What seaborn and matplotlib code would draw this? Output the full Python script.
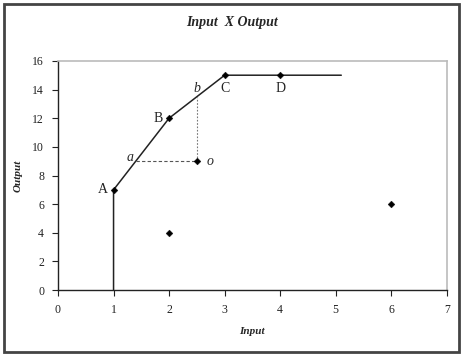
import matplotlib
matplotlib.use("Agg")
import matplotlib.pyplot as plt
import seaborn as sns
import pandas as pd
from matplotlib.patches import Rectangle

# Data
frontier_x = [1, 1, 2, 3, 5.1]
frontier_y = [0, 7, 12, 15, 15]
point_x = [1, 2, 3, 4, 2.5, 2, 6]
point_y = [7, 12, 15, 15, 9, 4, 6]
labels = ["A", "B", "C", "D"]
label_x = [0.9, 1.88, 3.0, 4.0]
label_y = [7.0, 12.0, 14.1, 14.1]
a_pt = (1.4, 9)
b_pt = (2.5, 13.5)
o_pt = (2.5, 9)
x_ticks = [0, 1, 2, 3, 4, 5, 6, 7]
y_ticks = [0, 2, 4, 6, 8, 10, 12, 14, 16]

sns.set_style("white")
plt.rcParams['font.family'] = ['Liberation Serif', 'DejaVu Serif']

fig = plt.figure(figsize=(4.64, 3.56), dpi=100)
ax = fig.add_axes([0.125, 0.185, 0.838, 0.644])

df_f = pd.DataFrame({"x": frontier_x, "y": frontier_y})
sns.lineplot(data=df_f, x="x", y="y", sort=False, estimator=None, ax=ax,
             color="#222222", linewidth=1.1)
df_p = pd.DataFrame({"x": point_x, "y": point_y})
sns.scatterplot(data=df_p, x="x", y="y", ax=ax, marker="D", s=12,
                color="black", edgecolor="black", zorder=5)

# dashed guide lines
ax.plot([a_pt[0], o_pt[0]], [a_pt[1], o_pt[1]], linestyle=(0, (3, 2)),
        color="#555555", linewidth=0.8)
ax.plot([o_pt[0], b_pt[0]], [o_pt[1], b_pt[1]], linestyle=(0, (1.5, 1.5)),
        color="#777777", linewidth=0.8)

for lab, lx, ly in zip(labels, label_x, label_y):
    ha = "right" if lab in ("A", "B") else "center"
    ax.text(lx, ly, lab, ha=ha, va="center", fontsize=10, color="#222222")
ax.text(1.3, 9.25, "a", style="italic", ha="center", va="center", fontsize=10)
ax.text(2.5, 14.1, "b", style="italic", ha="center", va="center", fontsize=10)
ax.text(2.74, 9.0, "o", style="italic", ha="center", va="center", fontsize=10)

ax.set_xlim(0, 7)
ax.set_ylim(0, 16)
ax.set_xticks(x_ticks)
ax.set_yticks(y_ticks)
ax.tick_params(axis="both", direction="out", length=4, width=0.8,
               labelsize=8.5, colors="#222222", bottom=True, left=True, pad=6)
for side in ("left", "bottom"):
    ax.spines[side].set_color("#222222")
    ax.spines[side].set_linewidth(1.0)
for side in ("top", "right"):
    ax.spines[side].set_color("#bbbbbb")
    ax.spines[side].set_linewidth(1.2)

ax.set_xlabel("Input", style="italic", fontweight="bold", fontsize=8, labelpad=8)
ax.set_ylabel("Output", style="italic", fontweight="bold", fontsize=8, labelpad=7)
fig.text(0.5, 0.938, "Input  X Output", ha="center", va="center",
         style="italic", fontweight="bold", fontsize=10)

fig.patches.append(Rectangle((0.008, 0.012), 0.982, 0.978, transform=fig.transFigure,
                             fill=False, edgecolor="#444444", linewidth=2.0))

fig.savefig("out.png", dpi=100)
